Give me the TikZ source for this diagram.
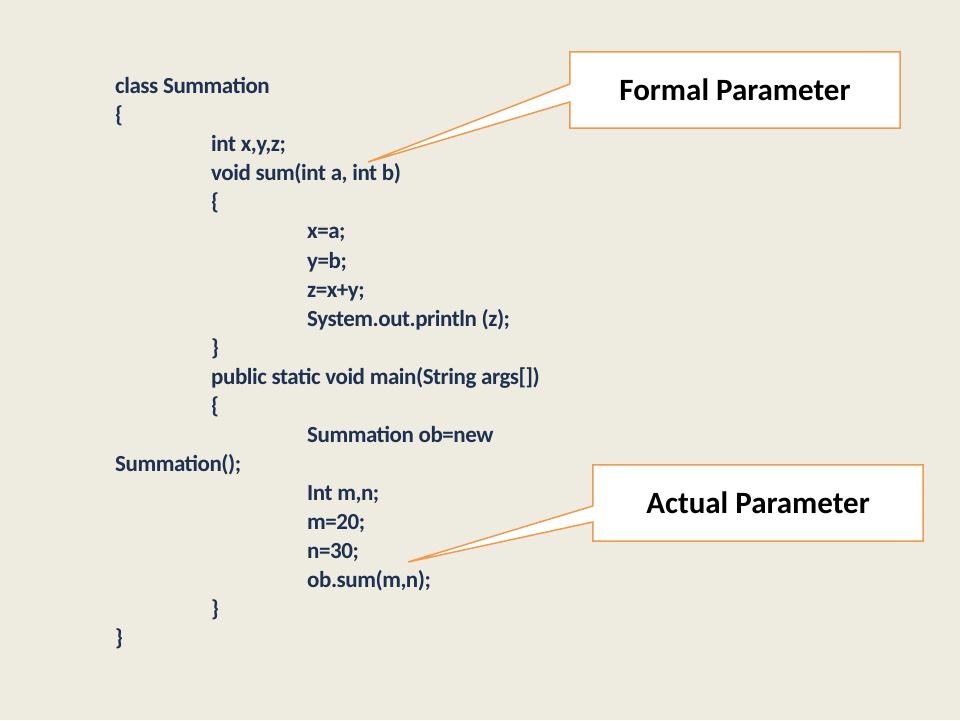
\documentclass[tikz,border=0pt]{standalone}
\usepackage{fontspec}
\setmainfont{Carlito}
\usepackage{xcolor}
\usetikzlibrary{positioning}
\definecolor{slidebg}{HTML}{EEEBE0}
\definecolor{codeblue}{HTML}{1F3150}
\definecolor{calloutorange}{HTML}{F09A4A}
\tikzset{
    code/.style={anchor=base west, inner sep=0pt, text=codeblue, font=\fontsize{23}{23}\selectfont\bfseries\addfontfeature{LetterSpace=-2}},
    callbox/.style={minimum width=330pt, minimum height=76pt, inner sep=0pt, text=black, font=\fontsize{31}{31}\selectfont\bfseries},
    calledge/.style={draw=calloutorange, fill=white, line width=1.5pt, line join=miter}
}
\begin{document}
\begin{tikzpicture}[x=1pt, y=-1pt]
\fill[slidebg] (0,0) rectangle (960,720);
\useasboundingbox (0,0) rectangle (960,720);

% Code lines
\node[code] (l1) at (115,93) {class Summation};
\node[code] (l2) at (115,122) {\{};
\node[code] (l3) at (211,151) {int x,y,z;};
\node[code] (l4) at (211,180) {void sum(int a, int b)};
\node[code] (l5) at (211,209) {\{};
\node[code] (l6) at (307,238) {x=a;};
\node[code] (l7) at (307,268) {y=b;};
\node[code] (l8) at (307,297) {z=x+y;};
\node[code] (l9) at (307,326) {System.out.println (z);};
\node[code] (l10) at (211,355) {\}};
\node[code] (l11) at (211,384) {public static void main(String args[])};
\node[code] (l12) at (211,413) {\{};
\node[code] (l13) at (307,442) {Summation ob=new};
\node[code] (l14) at (115,471) {Summation();};
\node[code] (l15) at (307,500) {Int m,n;};
\node[code] (l16) at (307,529) {m=20;};
\node[code] (l17) at (307,558) {n=30;};
\node[code] (l18) at (307,587) {ob.sum(m,n);};
\node[code] (l19) at (211,616) {\}};
\node[code] (l20) at (115,645) {\}};

% Callouts
\coordinate (formaltip) at (368,162);
\coordinate (actualtip) at (408,562);
\node[callbox] (formal) at (735,90) {};
\node[callbox] (actual) at (758,503) {};
\path[calledge] (formal.north west) -- (formal.north east) -- (formal.south east)
    -- (formal.south west) -- ([yshift=-12pt]formal.west) -- (formaltip)
    -- ([yshift=6pt]formal.west) -- cycle;
\path[calledge] (actual.north west) -- (actual.north east) -- (actual.south east)
    -- (actual.south west) -- ([yshift=-19pt]actual.west) -- (actualtip)
    -- ([yshift=-3pt]actual.west) -- cycle;
\node[callbox] at (formal) {Formal Parameter};
\node[callbox] at (actual) {Actual Parameter};
\end{tikzpicture}
\end{document}
